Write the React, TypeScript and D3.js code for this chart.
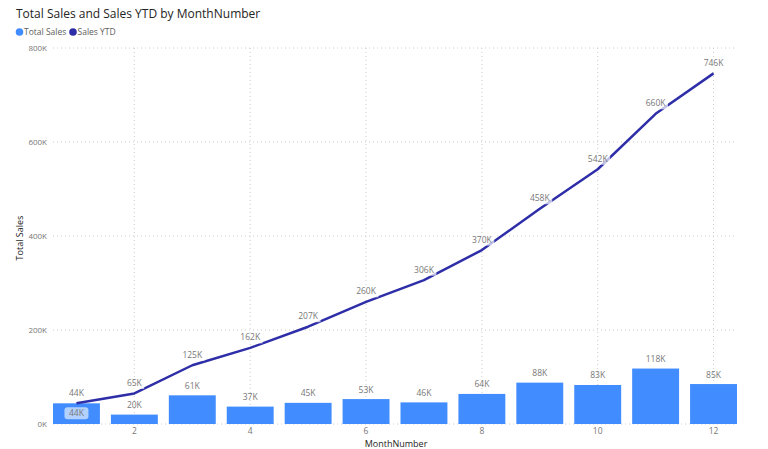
import React from 'react';
import * as d3 from 'd3';

const months = [1, 2, 3, 4, 5, 6, 7, 8, 9, 10, 11, 12];
const totalSales = [44, 20, 61, 37, 45, 53, 46, 64, 88, 83, 118, 85];
const salesYTD = [44, 65, 125, 162, 207, 260, 306, 370, 458, 542, 660, 746];
const yTicks = [0, 200, 400, 600, 800];
const xTickMonths = [2, 4, 6, 8, 10, 12];

const W = 768;
const H = 449;
const FONT = "'Open Sans', 'Noto Sans', sans-serif";
const BAR_COLOR = '#418CFF';
const LINE_COLOR = '#2E2EA8';
const TEXT_GRAY = '#777';

const App: React.FC = () => {
  const x = d3.scaleBand<number>().domain(months).range([53, 737]).paddingInner(0.19).paddingOuter(0);
  const y = d3.scaleLinear().domain([0, 800]).range([424, 48]);
  const cx = (m: number) => (x(m) ?? 0) + x.bandwidth() / 2;

  const line = d3.line<number>()
    .x((_, i) => cx(months[i]))
    .y(d => y(d));

  // line labels sit on a half-transparent white box that lightens the line beneath
  const lineLabel = (v: number, i: number) => {
    const px = cx(months[i]);
    const py = y(v) - 7.5;
    const txt = `${v}K`;
    const w = txt.length * 5.2 + 4;
    return (
      <g key={`ll${i}`}>
        <rect x={px - w / 2} y={py - 8} width={w} height={11} fill="#fff" opacity={0.7} />
        <text x={px} y={py} textAnchor="middle" fontSize={8.5} fill={TEXT_GRAY}>{txt}</text>
      </g>
    );
  };

  return (
    <svg width={W} height={H} style={{ position: 'absolute', left: 0, top: 0, fontFamily: FONT }}>
      <rect width={W} height={H} fill="#fff" />
      <text x={16} y={18} fontSize={12} fill="#252423">Total Sales and Sales YTD by MonthNumber</text>

      {/* legend */}
      <circle cx={19.5} cy={32} r={3.8} fill={BAR_COLOR} />
      <text x={24} y={35} fontSize={8.5} fill="#605E5C">Total Sales</text>
      <circle cx={73} cy={32} r={3.8} fill={LINE_COLOR} />
      <text x={77.5} y={35} fontSize={8.5} fill="#605E5C">Sales YTD</text>

      {/* gridlines */}
      {yTicks.map(t => (
        <g key={`y${t}`}>
          <line x1={53} x2={737} y1={y(t)} y2={y(t)} stroke="#ccc" strokeDasharray="1,3" />
          <text x={47} y={y(t) + 3} textAnchor="end" fontSize={8} fill={TEXT_GRAY}>{`${t}K`}</text>
        </g>
      ))}
      {xTickMonths.map(m => (
        <g key={`x${m}`}>
          <line x1={cx(m)} x2={cx(m)} y1={48} y2={424} stroke="#ccc" strokeDasharray="1,3" />
          <text x={cx(m)} y={434} textAnchor="middle" fontSize={8.5} fill={TEXT_GRAY}>{m}</text>
        </g>
      ))}

      {/* bars */}
      {months.map((m, i) => (
        <rect key={`b${m}`} x={x(m)} y={y(totalSales[i])} width={x.bandwidth()} height={y(0) - y(totalSales[i])} fill={BAR_COLOR} />
      ))}
      {months.map((m, i) => i === 0 ? (
        <g key={`bl${m}`}>
          <rect x={cx(m) - 12} y={y(totalSales[i]) + 4} width={24} height={12} rx={3} fill="#fff" opacity={0.6} />
          <text x={cx(m)} y={y(totalSales[i]) + 13} textAnchor="middle" fontSize={8.5} fill={TEXT_GRAY}>{`${totalSales[i]}K`}</text>
        </g>
      ) : (
        <text key={`bl${m}`} x={cx(m)} y={y(totalSales[i]) - 6.5} textAnchor="middle" fontSize={8.5} fill={TEXT_GRAY}>{`${totalSales[i]}K`}</text>
      ))}

      {/* line */}
      <path d={line(salesYTD) ?? ''} fill="none" stroke={LINE_COLOR} strokeWidth={2.5} strokeLinejoin="round" />
      {salesYTD.map((v, i) => lineLabel(v, i))}

      {/* axis titles */}
      <text x={396} y={447} textAnchor="middle" fontSize={9} fill="#252423">MonthNumber</text>
      <text transform={`translate(23,238) rotate(-90)`} textAnchor="middle" fontSize={9} fill="#252423">Total Sales</text>
    </svg>
  );
};

export default App;
